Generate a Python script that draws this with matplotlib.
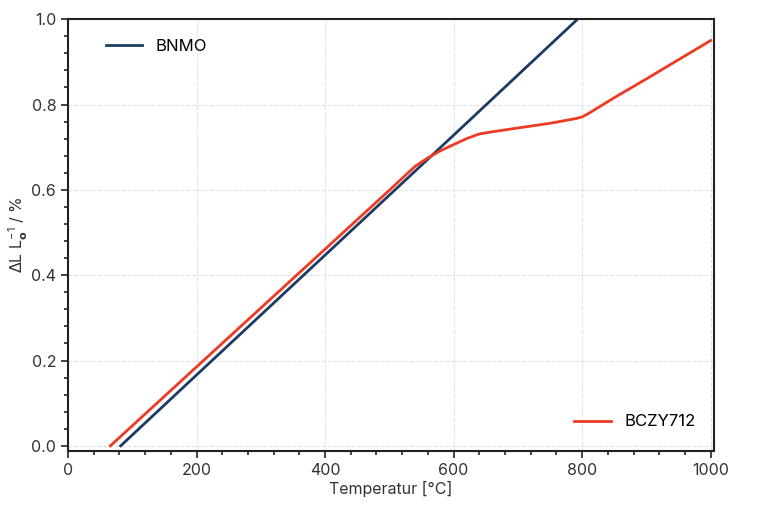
import matplotlib
matplotlib.use('Agg')
import matplotlib.pyplot as plt
from matplotlib.ticker import MultipleLocator

plt.rcParams['font.family'] = ['Inter', 'DejaVu Sans']

# dilatometer curves
bnmo_temp = [82, 200, 400, 600, 800]
bnmo_dl = [0.0, 0.166, 0.447, 0.728, 1.01]

bczy_temp = [66, 100, 200, 300, 400, 500, 530, 540, 560, 580, 600, 620, 640, 660,
             700, 750, 790, 800, 810, 850, 900, 950, 1000]
bczy_dl = [0.0, 0.047, 0.185, 0.323, 0.461, 0.599, 0.641, 0.655, 0.675, 0.692,
           0.706, 0.720, 0.731, 0.736, 0.745, 0.756, 0.767, 0.771, 0.779, 0.816,
           0.860, 0.905, 0.950]

fig = plt.figure(figsize=(7.68, 5.05), dpi=100)
ax = fig.add_axes([0.0885, 0.107, 0.841, 0.855])

l1, = ax.plot(bnmo_temp, bnmo_dl, color='#1d3c63', lw=2, label='BNMO')
l2, = ax.plot(bczy_temp, bczy_dl, color='#ee3a23', lw=2, label='BCZY712')

ax.set_xlim(0, 1005)
ax.set_ylim(-0.012, 1.0)
ax.xaxis.set_major_locator(MultipleLocator(200))
ax.xaxis.set_minor_locator(MultipleLocator(40))
ax.yaxis.set_major_locator(MultipleLocator(0.2))
ax.yaxis.set_minor_locator(MultipleLocator(0.04))
ax.tick_params(which='major', direction='out', length=5, width=1.2, labelsize=11.5,
               color='#222222', labelcolor='#333333')
ax.tick_params(which='minor', direction='out', length=3, width=1.2, color='#222222')
ax.grid(True, which='major', color='#e2e2e2', ls='--', lw=0.8)
for s in ax.spines.values():
    s.set_linewidth(1.5)
    s.set_color('#222222')

ax.set_xlabel('Temperatur [°C]', fontsize=11.5, color='#333333', labelpad=2)
ax.set_ylabel(r'$\Delta$L L$_\mathbf{o}^{\mathregular{-1}}$ / %', fontsize=11.5,
              color='#333333', labelpad=1)

leg1 = ax.legend(handles=[l1], loc='upper left', frameon=False, fontsize=12,
                 bbox_to_anchor=(0.035, 0.99), handlelength=2.2)
ax.add_artist(leg1)
ax.legend(handles=[l2], loc='lower right', frameon=False, fontsize=12,
          bbox_to_anchor=(0.995, 0.015), handlelength=2.2)

fig.savefig('out.png', dpi=100)
